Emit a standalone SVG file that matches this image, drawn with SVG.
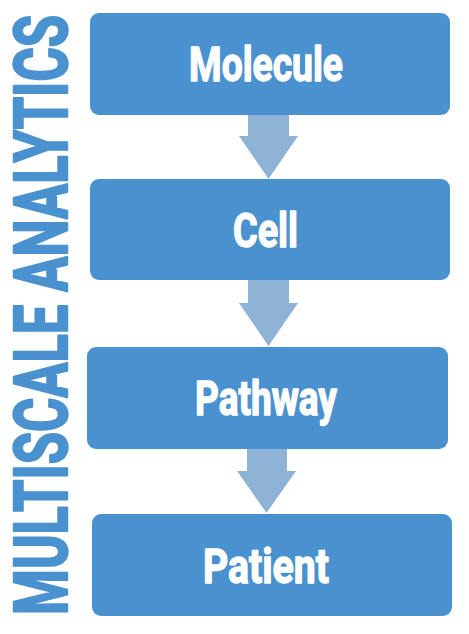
<svg xmlns="http://www.w3.org/2000/svg" width="469" height="634" viewBox="0 0 469 634">
<style>
.box{fill:#4a91cf;}
.arrow{fill:#8fb3d4;}
.lbl{font-family:Roboto,"Liberation Sans",sans-serif;font-weight:700;font-size:48px;fill:#ffffff;stroke:#ffffff;stroke-width:1.4px;stroke-linejoin:round;text-anchor:middle;}
.title{font-family:Roboto,"Liberation Sans",sans-serif;font-weight:700;font-size:74px;fill:#4a91cf;stroke:#4a91cf;stroke-width:2.4px;stroke-linejoin:round;}
</style>
<rect width="469" height="634" fill="#ffffff"/>
<g id="title">
<text class="title" transform="translate(67,615) rotate(-90)" x="0" y="0" textLength="600" lengthAdjust="spacingAndGlyphs">MULTISCALE ANALYTICS</text>
</g>
<g id="connectors">
<polygon class="arrow" points="248,114 289,114 289,136 298,136 268.5,179 239,136 248,136"/>
<polygon class="arrow" points="248,280 289,280 289,303 298,303 268.5,346 239,303 248,303"/>
<polygon class="arrow" points="247,448 287,448 287,471 296,471 266.5,513 237,471 247,471"/>
</g>
<g id="molecule">
<rect class="box" x="90" y="13" width="360" height="102" rx="9"/>
<text class="lbl" x="266" y="81" textLength="154" lengthAdjust="spacingAndGlyphs">Molecule</text>
</g>
<g id="cell">
<rect class="box" x="90" y="179" width="360" height="101" rx="9"/>
<text class="lbl" x="265.5" y="247" textLength="65" lengthAdjust="spacingAndGlyphs">Cell</text>
</g>
<g id="pathway">
<rect class="box" x="87" y="347" width="361" height="102" rx="9"/>
<text class="lbl" x="266" y="415" textLength="142" lengthAdjust="spacingAndGlyphs">Pathway</text>
</g>
<g id="patient">
<rect class="box" x="92" y="514" width="360" height="102" rx="9"/>
<text class="lbl" x="266" y="583" textLength="126" lengthAdjust="spacingAndGlyphs">Patient</text>
</g>
</svg>
